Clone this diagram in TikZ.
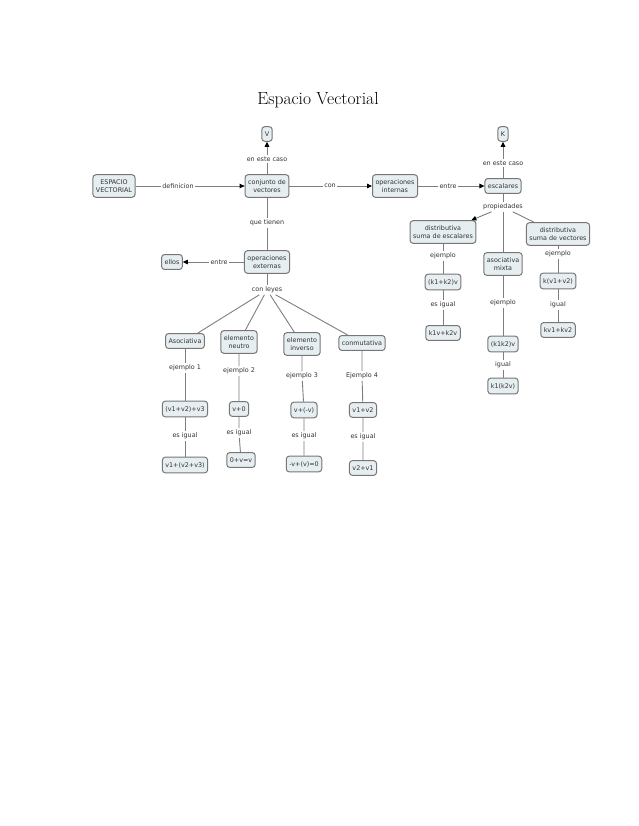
\documentclass[tikz,border=0pt]{standalone}
\usepackage{fontspec}
\setsansfont{DejaVu Sans}
\usepackage{tikz}
\usetikzlibrary{positioning,arrows.meta}
\definecolor{boxfill}{HTML}{E6EEF1}
\definecolor{boxline}{HTML}{777777}
\definecolor{linkgray}{HTML}{7E7E7E}
\definecolor{ink}{HTML}{333333}

\begin{document}
\begin{tikzpicture}[
  x=1pt,y=1pt,on grid,
  font=\sffamily\fontsize{6.4}{7.7}\selectfont,
  box/.style={rounded corners=3pt,draw=boxline,line width=1pt,fill=boxfill,text=ink,inner xsep=3pt,inner ysep=5pt,align=center},
  lnk/.style={text=ink,inner sep=1.5pt},
  edge/.style={draw=linkgray,line width=0.9pt},
  edgearr/.style={edge,-{Triangle[length=5pt,width=4.6pt,color=black]}}
]
\useasboundingbox (0,0) rectangle (638,-826);
\node[font=\rmfamily\fontsize{17.5}{20}\selectfont] (title) at (318,-100) {Espacio Vectorial};

% upper row
\node[box] (esp) at (114,-186) {ESPACIO\\VECTORIAL};
\node[box,right=153pt of esp] (conj) {conjunto de\\vectores};
\node[box,above=52pt of conj] (v) {V};
\node[box,right=128pt of conj] (opint) {operaciones\\internas};
\node[box,right=108pt of opint] (esc) {escalares};
\node[box,above=52pt of esc] (k) {K};
\node[lnk,right=64pt of esp] (ldef) {definicion};
\node[lnk,above=27pt of conj] (lcaso) {en este caso};
\node[lnk,right=63pt of conj] (lcon) {con};
\node[lnk,right=53pt of opint] (lentre) {entre};
\node[lnk,above=23pt of esc] (lcasok) {en este caso};
\node[lnk,below=21pt of esc] (lprop) {propiedades};

% propiedades de los escalares
\node[box,below left=46pt and 60pt of esc] (dse) {distributiva\\suma de escalares};
\node[box,below=78pt of esc] (am) {asociativa\\mixta};
\node[box,below right=48pt and 55pt of esc] (dsv) {distributiva\\suma de vectores};
\node[lnk,below=24pt of dse] (lejdse) {ejemplo};
\node[box,below=50pt of dse] (kka) {(k1+k2)v};
\node[lnk,below=23pt of kka] (ligdse) {es igual};
\node[box,below=51pt of kka] (kkb) {k1v+k2v};
\node[lnk,below=39pt of am] (lejam) {ejemplo};
\node[box,below=80pt of am] (kma) {(k1k2)v};
\node[lnk,below=21pt of kma] (ligam) {igual};
\node[box,below=42pt of kma] (kmb) {k1(k2v)};
\node[lnk,below=20pt of dsv] (lejdsv) {ejemplo};
\node[box,below=47pt of dsv] (kva) {k(v1+v2)};
\node[lnk,below=24pt of kva] (ligdsv) {igual};
\node[box,below=49pt of kva] (kvb) {kv1+kv2};

% operaciones externas
\node[box,below=76pt of conj] (opext) {operaciones\\externas};
\node[lnk,below=37pt of conj] (ltienen) {que tienen};
\node[box,left=95pt of opext] (ellos) {ellos};
\node[lnk,left=48pt of opext] (lentreb) {entre};
\node[lnk,below=28pt of opext] (lleyes) {con leyes};
\node[box,below left=79pt and 82pt of opext] (asoc) {Asociativa};
\node[box,below left=80pt and 28pt of opext] (neutro) {elemento\\neutro};
\node[box,below right=82pt and 35pt of opext] (inverso) {elemento\\inverso};
\node[box,below right=81pt and 95pt of opext] (conm) {conmutativa};

\node[lnk,below=27pt of asoc] (lej1) {ejemplo 1};
\node[box,below=68pt of asoc] (exa) {(v1+v2)+v3};
\node[lnk,below=27pt of exa] (lig1) {es igual};
\node[box,below=56pt of exa] (resa) {v1+(v2+v3)};
\node[lnk,below=29pt of neutro] (lej2) {ejemplo 2};
\node[box,below=67pt of neutro] (exb) {v+0};
\node[lnk,below=24pt of exb] (lig2) {es igual};
\node[box,below right=51pt and 2pt of exb] (resb) {0+v=v};
\node[lnk,below=32pt of inverso] (lej3) {ejemplo 3};
\node[box,below right=66pt and 2pt of inverso] (exc) {v+(-v)};
\node[lnk,below=26pt of exc] (lig3) {es igual};
\node[box,below=54pt of exc] (resc) {-v+(v)=0};
\node[lnk,below=33pt of conm] (lej4) {Ejemplo 4};
\node[box,below right=67pt and 1pt of conm] (exd) {v1+v2};
\node[lnk,below=27pt of exd] (lig4) {es igual};
\node[box,below=58pt of exd] (resd) {v2+v1};

\draw[edge] (esp) -- (ldef);
\draw[edgearr] (ldef) -- (conj);
\draw[edge] (conj) -- (lcaso);
\draw[edgearr] (lcaso) -- (v);
\draw[edge] (conj) -- (lcon);
\draw[edgearr] (lcon) -- (opint);
\draw[edge] (opint) -- (lentre);
\draw[edgearr] (lentre) -- (esc);
\draw[edge] (esc) -- (lcasok);
\draw[edgearr] (lcasok) -- (k);
\draw[edge] (esc) -- (lprop);
\draw[edgearr] (lprop) -- (dse);
\draw[edge] (lprop) -- (am);
\draw[edge] (lprop) -- (dsv);
\draw[edge] (dse) -- (lejdse) -- (kka) -- (ligdse) -- (kkb);
\draw[edge] (am) -- (lejam) -- (kma) -- (ligam) -- (kmb);
\draw[edge] (dsv) -- (lejdsv) -- (kva) -- (ligdsv) -- (kvb);

\draw[edge] (conj) -- (ltienen) -- (opext);
\draw[edge] (opext) -- (lentreb);
\draw[edgearr] (lentreb) -- (ellos);
\draw[edge] (opext) -- (lleyes);
\draw[edge] (lleyes) -- (asoc);
\draw[edge] (lleyes) -- (neutro);
\draw[edge] (lleyes) -- (inverso);
\draw[edge] (lleyes) -- (conm);
\draw[edge] (asoc) -- (lej1) -- (exa) -- (lig1) -- (resa);
\draw[edge] (neutro) -- (lej2) -- (exb) -- (lig2) -- (resb);
\draw[edge] (inverso) -- (lej3) -- (exc) -- (lig3) -- (resc);
\draw[edge] (conm) -- (lej4) -- (exd) -- (lig4) -- (resd);
\end{tikzpicture}
\end{document}
